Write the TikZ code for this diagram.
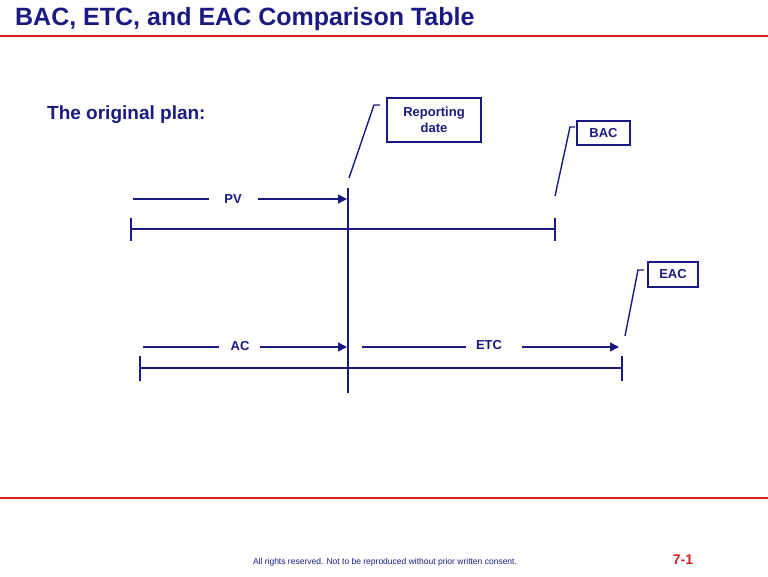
\documentclass[tikz,border=0pt]{standalone}
\usepackage{fontspec}
\setmainfont{Liberation Sans}
\usetikzlibrary{arrows.meta}
\definecolor{navy}{HTML}{1A1A80}
\definecolor{redline}{HTML}{D42020}
\begin{document}
\begin{tikzpicture}[x=1pt,y=-1pt,
  ln/.style={navy,line width=1.4pt},
  arr/.style={navy,line width=1.4pt,-{Triangle[length=9pt,width=9pt]}},
  lab/.style={text=navy,font=\bfseries\fontsize{13}{15}\selectfont},
  boxn/.style={draw=navy,line width=1.4pt,text=navy,font=\bfseries\fontsize{13}{16}\selectfont,align=center,inner sep=3pt}]
\useasboundingbox (0,0) rectangle (768,576);
\node[anchor=west,text=navy,font=\bfseries\fontsize{25}{28}\selectfont,inner sep=0pt] (title) at (15,19) {BAC, ETC, and EAC Comparison Table};
\draw[redline,line width=2.5pt] (0,36) -- (768,36);
\draw[redline,line width=1.4pt] (0,498) -- (768,498);
\node[anchor=west,text=navy,font=\bfseries\fontsize{19}{22}\selectfont,inner sep=0pt] (plan) at (47,115) {The original plan:};
% callouts
\node[boxn,minimum width=94pt,minimum height=44pt] (rep) at (434,120) {Reporting\\date};
\node[boxn,minimum width=53pt,minimum height=24pt] (bac) at (603.5,133) {BAC};
\node[boxn,minimum width=50pt,minimum height=25pt] (eac) at (673,274.5) {EAC};
\coordinate (rc) at (380,105); \coordinate (re) at (349,178);
\draw[ln] (re) -- (374,105) -- (rc);
\coordinate (bc) at (575,127); \coordinate (be) at (555,196);
\draw[ln] (be) -- (570,127) -- (bc);
\coordinate (ec) at (644,270); \coordinate (ee) at (625,336);
\draw[ln] (ee) -- (638,270) -- (ec);
% PV row
\coordinate (pv0) at (133,199); \coordinate (pv1) at (209,199);
\node[lab] (pv) at (233,199) {PV};
\coordinate (pv2) at (258,199); \coordinate (pv3) at (347,199);
\draw[ln] (pv0) -- (pv1);
\draw[arr] (pv2) -- (pv3);
% vertical reporting line
\coordinate (v0) at (348,188); \coordinate (v1) at (348,393);
\draw[ln] (v0) -- (v1);
% bar 1
\coordinate (b1a) at (131,229); \coordinate (b1b) at (555,229);
\draw[ln] (b1a) -- (b1b);
\draw[ln] (131,218) -- (131,241);
\draw[ln] (555,218) -- (555,241);
% AC / ETC row
\coordinate (ac0) at (143,347); \coordinate (ac1) at (219,347);
\node[lab] (ac) at (240,346) {AC};
\coordinate (ac2) at (260,347); \coordinate (ac3) at (347,347);
\draw[ln] (ac0) -- (ac1); \draw[arr] (ac2) -- (ac3);
\coordinate (et0) at (362,347); \coordinate (et1) at (466,347);
\node[lab] (etc) at (489,345) {ETC};
\coordinate (et2) at (522,347); \coordinate (et3) at (619,347);
\draw[ln] (et0) -- (et1); \draw[arr] (et2) -- (et3);
% bar 2
\coordinate (b2a) at (140,368); \coordinate (b2b) at (622,368);
\draw[ln] (b2a) -- (b2b);
\draw[ln] (140,356) -- (140,381);
\draw[ln] (622,356) -- (622,381);
% footer
\node[text=navy,font=\fontsize{8.5}{9}\selectfont] (foot) at (385,562) {All rights reserved. Not to be reproduced without prior written consent.};
\node[text=redline,font=\bfseries\fontsize{14}{16}\selectfont] (pg) at (683,560) {7-1};
\end{tikzpicture}
\end{document}
